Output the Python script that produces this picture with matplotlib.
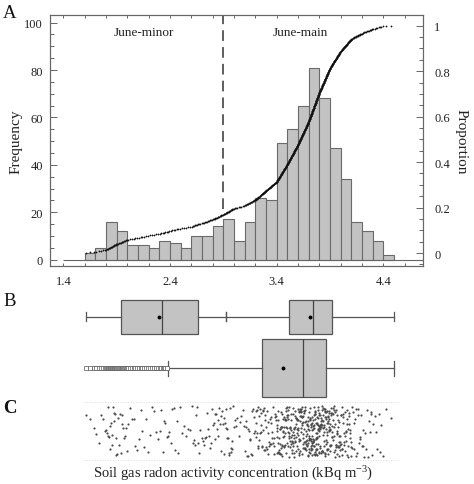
import numpy as np
import matplotlib
matplotlib.use("Agg")
import matplotlib.pyplot as plt
from matplotlib.ticker import MultipleLocator

plt.rcParams['font.family'] = ['Liberation Serif', 'DejaVu Serif']
plt.rcParams['mathtext.fontset'] = 'custom'
plt.rcParams['mathtext.rm'] = 'Liberation Serif'
plt.rcParams['mathtext.it'] = 'Liberation Serif:italic'
plt.rcParams['mathtext.bf'] = 'Liberation Serif:bold'

# ---------------- data ----------------
bin_start = 1.6
bin_width = 0.1
counts = [3, 5, 16, 12, 6, 6, 5, 8, 7, 5, 10, 10, 14, 17, 8, 16, 26, 25,
          49, 55, 65, 81, 68, 47, 34, 16, 12, 8, 2]
split_value = 2.9
group_labels = ["June-minor", "June-main"]

# box statistics (kBq m-3)
minor_stats = dict(whislo=1.615, q1=1.936, med=2.322, mean=2.30, q3=2.665, whishi=2.92)
main_stats = dict(whislo=2.92, q1=3.515, med=3.743, mean=3.715, q3=3.917, whishi=4.496)
all_stats = dict(whislo=2.378, q1=3.265, med=3.643, mean=3.459, q3=3.862, whishi=4.502)

x_ticks = [1.4, 2.4, 3.4, 4.4]
x_tick_labels = ["1.4", "2.4", "3.4", "4.4"]
freq_ticks = [0, 20, 40, 60, 80, 100]
prop_ticks = [0, 0.2, 0.4, 0.6, 0.8, 1]
prop_tick_labels = ["0", "0.2", "0.4", "0.6", "0.8", "1"]

# ---------------- reconstructed individual values from the bins ----------------
edges = bin_start + bin_width * np.arange(len(counts) + 1)
pts = np.concatenate([edges[i] + (np.arange(n) + 0.5) / n * bin_width
                      for i, n in enumerate(counts) if n > 0])
pts.sort()
N = len(pts)
ecdf = np.arange(1, N + 1) / N

# strip-plot vertical jitter (deterministic hash, layout only)
idx = np.arange(N, dtype=float)
jitter = np.mod(np.abs(np.sin(idx * 12.9898 + 78.233)) * 43758.5453, 1.0)

# ---------------- figure ----------------
W, H = 474, 485
fig = plt.figure(figsize=(W / 100, H / 100), dpi=100)

def px_axes(x0, y0, x1, y1):
    return fig.add_axes([x0 / W, 1 - y1 / H, (x1 - x0) / W, (y1 - y0) / H])

XLIM = (1.275, 4.771)
gray_edge = '#6a6a6a'
fill = '#c3c3c3'
spine_c = '#666666'
txt_c = '#222222'

# ---- Panel A ----
ax = px_axes(50, 16, 423, 267.3)
ax.bar(edges[:-1], counts, width=bin_width, align='edge', color=fill,
       edgecolor=gray_edge, linewidth=0.8, zorder=2)
ax.hlines(0, 1.4, XLIM[1], color=spine_c, linewidth=0.8, zorder=3)
ax.set_xlim(*XLIM)
ax.set_ylim(-2.8, 103.2)
ax.vlines(split_value, 21.5, 103.2, color='#333333', linewidth=1.1,
          linestyles=(0, (7, 4)), zorder=4)
ax.text(2.16, 96, group_labels[0], ha='center', va='center', fontsize=9.5, color=txt_c)
ax.text(3.62, 96, group_labels[1], ha='center', va='center', fontsize=9.5, color=txt_c)

ax.set_xticks(x_ticks)
ax.set_xticklabels(x_tick_labels)
ax.xaxis.set_minor_locator(MultipleLocator(0.2))
ax.set_yticks(freq_ticks)
ax.yaxis.set_minor_locator(MultipleLocator(5))
ax.tick_params(axis='x', which='both', direction='in', top=True, length=2.5,
               width=0.7, color=spine_c, labelsize=9, labelcolor=txt_c, pad=6)
ax.tick_params(axis='y', which='major', direction='in', length=5, width=0.7,
               color=spine_c, labelsize=9, labelcolor=txt_c, pad=5)
ax.tick_params(axis='y', which='minor', direction='in', length=3, width=0.7, color=spine_c)
ax.set_ylabel("Frequency", fontsize=11, color=txt_c, labelpad=1)
for s in ax.spines.values():
    s.set_color(spine_c)
    s.set_linewidth(0.8)

ax2 = ax.twinx()
ax2.plot(pts, ecdf, linestyle='none', marker='o', markersize=1.0,
         markerfacecolor='#111111', markeredgecolor='#111111', markeredgewidth=0.2, zorder=5)
ax2.set_ylim(-0.0585, 1.047)
ax2.set_yticks(prop_ticks)
ax2.set_yticklabels(prop_tick_labels)
ax2.yaxis.set_minor_locator(MultipleLocator(0.05))
ax2.tick_params(axis='y', which='major', direction='in', length=5, width=0.7,
                color=spine_c, labelsize=9, labelcolor=txt_c, pad=8)
ax2.tick_params(axis='y', which='minor', direction='in', length=3, width=0.7, color=spine_c)
ax2.set_ylabel("Proportion", fontsize=11, color=txt_c, rotation=270, labelpad=13)
for s in ax2.spines.values():
    s.set_color(spine_c)
    s.set_linewidth(0.8)

# ---- Panel B ----
bx = px_axes(50, 288, 423, 402)
bx.set_xlim(*XLIM)
bx.set_ylim(402, 288)
bx.axis('off')
row1, row2 = 317.7, 369.3
s1 = dict(minor_stats, fliers=[])
s2 = dict(main_stats, fliers=[])
s3 = dict(all_stats, fliers=pts[pts < all_stats['whislo']])
box_kw = dict(vert=False, patch_artist=True, showmeans=True, shownotches=False,
              boxprops=dict(facecolor=fill, edgecolor='#555555', linewidth=0.9),
              medianprops=dict(color='#444444', linewidth=0.9),
              whiskerprops=dict(color='#555555', linewidth=0.9),
              capprops=dict(color='#555555', linewidth=0.9),
              meanprops=dict(marker='o', markersize=1.8, markerfacecolor='black',
                             markeredgecolor='black'),
              flierprops=dict(marker='s', markersize=3.4, markerfacecolor='white',
                              markeredgecolor='#555555', markeredgewidth=0.5))
bx.bxp([s1, s2], positions=[row1, row1], widths=33.6, capwidths=9, **box_kw)
bx.bxp([s3], positions=[row2], widths=58.3, capwidths=15, **box_kw)

# ---- Panel C ----
cx = px_axes(50, 398, 423, 466)
cx.set_xlim(*XLIM)
cx.set_ylim(466, 398)
cx.axis('off')
cx.plot(pts, 407 + jitter * 51, linestyle='none', marker='o', markersize=1.3,
        markerfacecolor='#4a4a4a', markeredgecolor='#4a4a4a', markeredgewidth=0.2)
cx.hlines([403, 461], 1.595, 4.55, color='#dcdcdc', linewidth=0.7, linestyles=':')

fig.text(233 / W, 1 - 474 / H,
         "Soil gas radon activity concentration (kBq m$^{\\mathregular{-3}}$)",
         ha='center', va='center', fontsize=10.5, color=txt_c)

# panel letters
fig.text(3 / W, 1 - 14 / H, "A", fontsize=13.5, ha='left', va='center', color='#111111')
fig.text(3 / W, 1 - 302 / H, "B", fontsize=13.5, ha='left', va='center', color='#111111')
fig.text(3 / W, 1 - 409 / H, "C", fontsize=13.5, ha='left', va='center', color='#111111',
         fontweight='bold')

fig.savefig("out.png", dpi=100)
